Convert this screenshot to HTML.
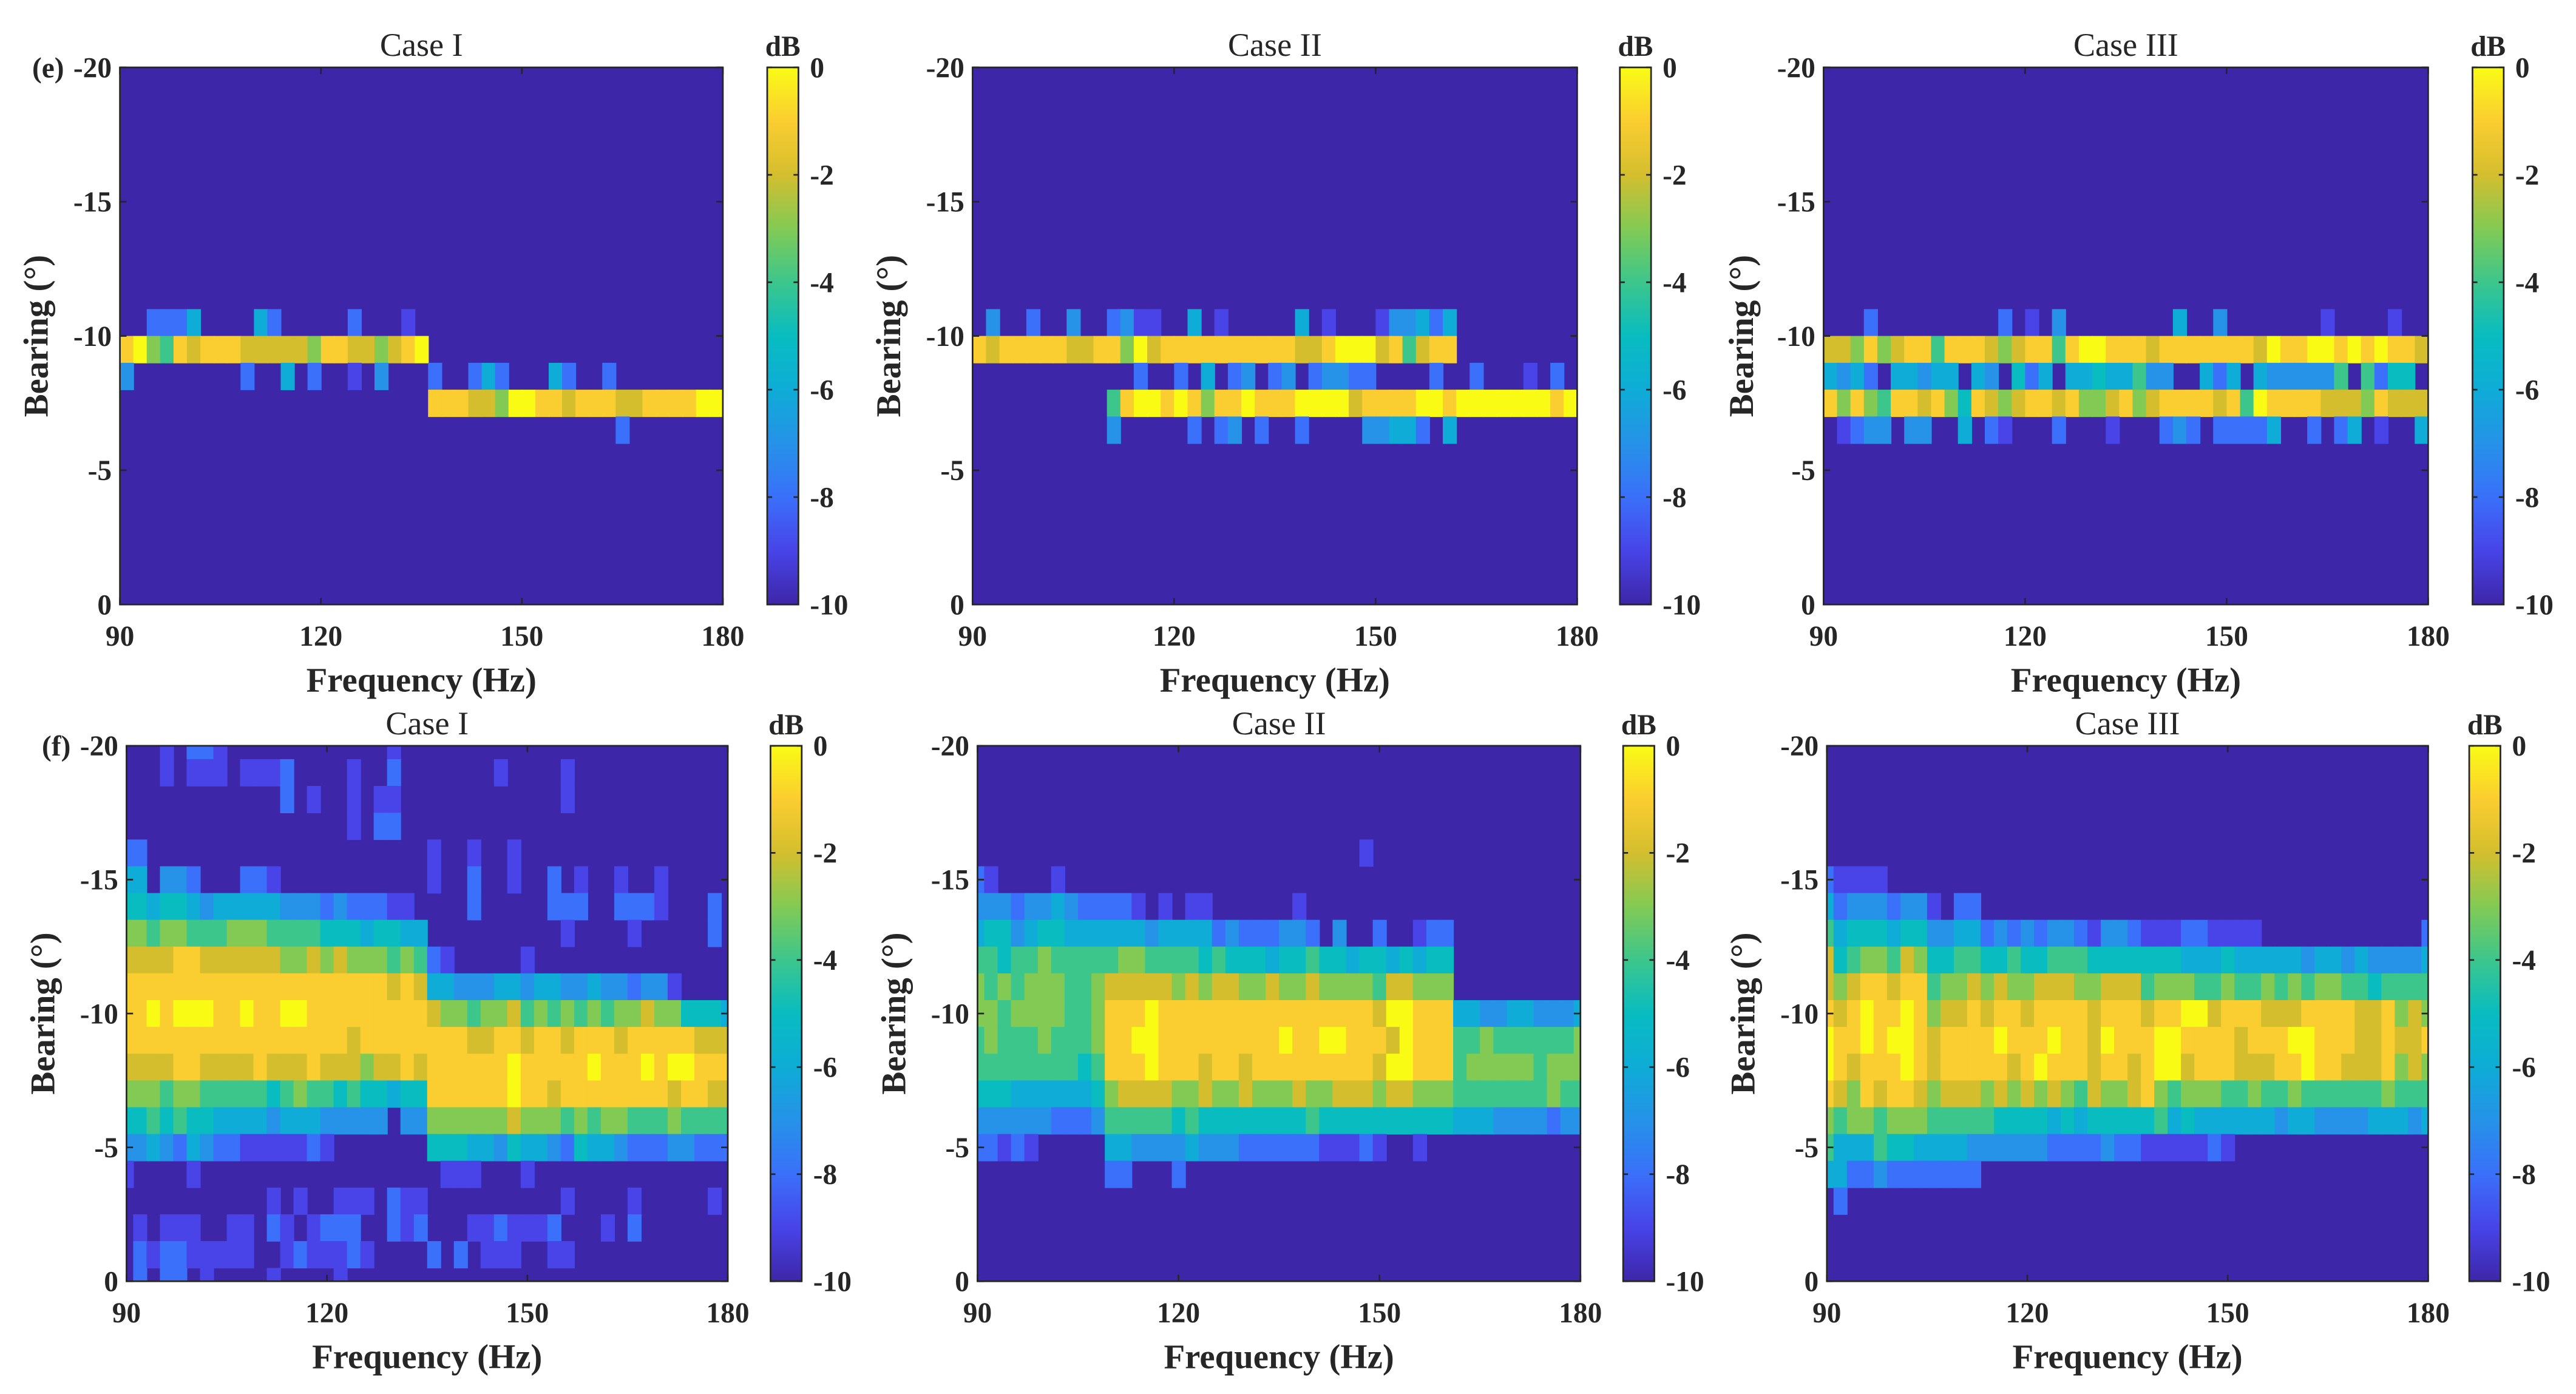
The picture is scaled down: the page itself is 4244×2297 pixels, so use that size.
<!DOCTYPE html>
<html>
<head>
<meta charset="utf-8">
<style>
html,body{margin:0;padding:0;background:#fff;}
svg{display:block;}
svg text{font-family:"Liberation Serif","DejaVu Serif",serif;fill:#262626;}
.tk{font-size:17.5px;font-weight:bold;}
.lab{font-size:21px;font-weight:bold;}
.ttl{font-size:20px;}
</style>
</head>
<body>
<svg id="fig" width="4244" height="2297" viewBox="0 0 1568 848.6" font-family="Liberation Serif, DejaVu Serif, serif" xmlns="http://www.w3.org/2000/svg">
<defs id="defs"></defs>
</svg>
<script>
// ---------- data ----------
// level digit d => value -d dB, '.' => -10 dB (floor)
const freqTicks = [90, 120, 150, 180];
const bearingTicks = [-20, -15, -10, -5, 0];
const cbarTicks = [0, -2, -4, -6, -8, -10];

// top row (e): cells centred on these bearings, 45 cols of 2 Hz starting at 90 Hz
const eBearings = [-10.5, -9.5, -8.5, -7.5, -6.5];
const e1Rows = [
"..888 6.... 68... ..8.. .9... ..... ..... ..... .....",
"10341 21112 22223 11223 210.. ..... ..... ..... .....",
"7.... ....8 ..6.8 ..9.7 ...8. .868. ..68. .8... .....",
"..... ..... ..... ..... ...11 12230 01121 11221 11100",
"..... ..... ..... ..... ..... ..... ..... ..8.. ....."
];
const e2Rows = [
".7..8 ..7.. 8799. .6.9. ....6 .9... 97768 6.... .....",
"12111 11221 13021 11111 11112 21000 21421 1.... .....",
"..... ..... ..8.. 8.6.8 7.87. 87788 ....8 ..8.. .9.8.",
"..... ..... 41001 01311 01110 00021 11100 10000 00010",
"..... ..... 7.... .8.87 .8..8 ....7 7668. 6.... ....."
];
const e3Rows = [
"...8. ..... ...8. 9.7.. ..... .6..7 ..... ..9.. ..9..",
"22313 21141 11232 11410 01112 11111 11201 10010 10112",
"6768. 66766 .67.5 86.66 56647 7..68 6.677 7774. 4855.",
"13134 11213 51232 11213 32132 11112 14011 11222 31222",
".9877 .77.. 6.89. ..8.. .9... 878.8 8886. .8.86 .9..6"
];

// bottom row (f): cells centred on integer bearings -20..0, 46 cols centred at 90,92,...,180 Hz
const fBearings = [-20,-19,-18,-17,-16,-15,-14,-13,-12,-11,-10,-9,-8,-7,-6,-5,-4,-3,-2,-1,0];
const f1Rows = [
"...9. 889.. ..... ..... 9.... ..... ..... ..... ..... .",
"...9. 999.9 998.. ..9.. 8.... ...9. ...9. ..... ..... .",
"..... ..... ..8.9 ..9.9 9.... ..... ...9. ..... ..... .",
"..... ..... ..... ..9.8 8.... ..... ..... ..... ..... .",
"88... ..... ..... ..... ...9. .9..9 ..... ..... ..... .",
"66.77 8...8 89... ..... ...9. .8..9 ..8.9 ..9.. 9.... .",
"55655 67666 66777 87888 99... .8... ..888 ..888 9...8 .",
"33433 44433 34444 55565 566.. ..... ...9. ...9. ....8 .",
"22221 12222 22332 32333 43489 ..... 9.... ..... ..... .",
"11111 11111 11111 11111 21266 77766 76677 67787 79... .",
"11010 00110 11001 11111 11123 34332 43434 34332 33555 6",
"11111 11111 11111 11211 11111 12211 21121 11211 11122 2",
"22221 12222 12221 22232 21211 11110 11111 01110 10011 1",
"33343 34444 45434 45455 65511 11110 11211 11111 12112 2",
"55454 55666 67666 77777 .7733 33332 33343 43344 43444 4",
"77678 67889 99998 9.... ...55 56675 66785 66788 87788 8",
"9.... 9.... ..... ..... ....9 99... 9.... ..... ..... .",
"..... ..... .9.9. .999. 899.. ..... ...9. ...9. ....9 .",
".9.99 9..99 .89.9 888.. 898.. .9989 998.. .9.8. ..... .",
".8988 99999 ..989 9989. ...8. 8.999 ..99. ..... ..... .",
".8.88 .9... .9... .9... ..... ..... ..... ..... ..... ."
];
const f2Rows = [
"..... ..... ..... ..... ..... ..... ..... ..... ..... .",
"..... ..... ..... ..... ..... ..... ..... ..... ..... .",
"..... ..... ..... ..... ..... ..... ..... ..... ..... .",
"..... ..... ..... ..... ..... ..... ..... ..... ..... .",
"..... ..... ..... ..... ..... ....9 ..... ..... ..... .",
"89... .9... ..... ..... ..... ..... ..... ..... ..... .",
"77787 76788 889.9 .99.. ....9 ..... ..... ..... ..... .",
"65576 55666 66676 66687 88877 8.7.. 8..98 8.... ..... .",
"44544 34444 43344 44545 55655 45565 56565 5.... ..... .",
"34343 33443 22222 32322 33233 23333 42233 3.... ..... .",
"33433 33443 11101 11111 11111 11111 20011 16677 66777 6",
"43444 34443 11001 11111 11101 10011 12011 14434 44444 3",
"44444 44454 11101 11211 21111 11111 20011 14333 33433 3",
"55566 66665 32222 33233 23332 33222 32233 34444 44434 4",
"77777 78887 44444 54555 55555 45555 55555 56667 77787 7",
"88989 ..... 66777 76777 88888 89998 9..9. ..... ..... .",
"..... ..... 88... 8.... ..... ..... ..... ..... ..... .",
"..... ..... ..... ..... ..... ..... ..... ..... ..... .",
"..... ..... ..... ..... ..... ..... ..... ..... ..... .",
"..... ..... ..... ..... ..... ..... ..... ..... ..... .",
"..... ..... ..... ..... ..... ..... ..... ..... ..... ."
];
const f3Rows = [
"..... ..... ..... ..... ..... ..... ..... ..... ..... .",
"..... ..... ..... ..... ..... ..... ..... ..... ..... .",
"..... ..... ..... ..... ..... ..... ..... ..... ..... .",
"..... ..... ..... ..... ..... ..... ..... ..... ..... .",
"..... ..... ..... ..... ..... ..... ..... ..... ..... .",
"89999 ..... ..... ..... ..... ..... ..... ..... ..... .",
"68777 8779. 88... ..... ..... ..... ..... ..... ..... .",
"46555 65577 66878 78778 97789 99889 999.. ..... ..... 8",
"25433 42355 44554 55444 55555 55666 56666 67667 67777 6",
"23211 21143 32323 32223 32224 33344 34434 34334 45444 4",
"12101 10132 21211 21111 21112 11002 11122 21111 22132 3",
"01101 00121 11101 11011 20111 00111 12111 00111 22122 1",
"01211 10121 11112 10111 21121 00211 12221 10112 22132 3",
"12312 11232 22323 23234 23321 34333 44344 34444 44344 4",
"34334 33344 44455 55656 55555 46566 66667 66777 76667 6",
"46664 55666 67777 77888 87889 99998 9.... ..... ..... .",
"66887 88888 88... ..... ..... ..... ..... ..... ..... .",
".8... ..... ..... ..... ..... ..... ..... ..... ..... .",
"..... ..... ..... ..... ..... ..... ..... ..... ..... .",
"..... ..... ..... ..... ..... ..... ..... ..... ..... .",
"..... ..... ..... ..... ..... ..... ..... ..... ..... ."
];

// ---------- rendering ----------
const NS = "http://www.w3.org/2000/svg";
const svg = document.getElementById('fig');
const defs = document.getElementById('defs');
const FONT = '"Liberation Serif", "DejaVu Serif", serif';
const parula = [[0,62,38,168],[0.1,72,68,232],[0.2,58,112,250],[0.3,38,146,232],[0.4,14,172,214],[0.5,8,188,192],[0.6,60,198,140],[0.7,130,202,84],[0.8,212,190,46],[0.9,250,205,48],[1,249,251,21]];
function colorOf(v){ // v in dB -10..0
  let t = Math.max(0, Math.min(1, (v + 10) / 10));
  for (let i = 0; i < parula.length - 1; i++) {
    const a = parula[i], b = parula[i+1];
    if (t <= b[0]) {
      const f = (t - a[0]) / (b[0] - a[0]);
      return 'rgb(' + [1,2,3].map(j => Math.round(a[j] + f*(b[j]-a[j]))).join(',') + ')';
    }
  }
  return 'rgb(249,251,21)';
}
function mk(tag, attrs, parent){
  const el = document.createElementNS(NS, tag);
  for (const k in attrs) el.setAttribute(k, attrs[k]);
  (parent || svg).appendChild(el);
  return el;
}
function txt(s, attrs, parent){
  const t = mk('text', attrs, parent);
  t.style.fontFamily = FONT;
  t.textContent = s;
  return t;
}
function parseRow(s){ return s.replace(/ /g,'').split('').map(ch => ch === '.' ? -10 : -Number(ch)); }

// colorbar gradient
const grad = mk('linearGradient', {id:'parulaGrad', x1:0, y1:1, x2:0, y2:0}, defs);
parula.forEach(p => mk('stop', {offset: p[0], 'stop-color': 'rgb(' + p[1] + ',' + p[2] + ',' + p[3] + ')'}, grad));

const panels = [
  {key:'e1', rows:e1Rows, bear:eBearings, centred:false, x0:73, x1:440, y0:41, y1:368, cb:467, title:'Case I', tag:'(e)', ylx:22},
  {key:'e2', rows:e2Rows, bear:eBearings, centred:false, x0:592, x1:960, y0:41, y1:368, cb:986, title:'Case II', ylx:541},
  {key:'e3', rows:e3Rows, bear:eBearings, centred:false, x0:1110, x1:1478, y0:41, y1:368, cb:1505, title:'Case III', ylx:1060},
  {key:'f1', rows:f1Rows, bear:fBearings, centred:true, x0:77, x1:443, y0:454, y1:780, cb:469, title:'Case I', tag:'(f)', ylx:26},
  {key:'f2', rows:f2Rows, bear:fBearings, centred:true, x0:595, x1:962, y0:454, y1:780, cb:988, title:'Case II', ylx:544},
  {key:'f3', rows:f3Rows, bear:fBearings, centred:true, x0:1112, x1:1478, y0:454, y1:780, cb:1503, title:'Case III', ylx:1061}
];

panels.forEach(P => {
  const g = mk('g', {});
  
  
  const xs = f => P.x0 + (f - 90) / 90 * (P.x1 - P.x0);
  const ys = b => P.y0 + (b + 20) / 20 * (P.y1 - P.y0);
  const clip = mk('clipPath', {id: 'clip-' + P.key}, defs);
  mk('rect', {x:P.x0, y:P.y0, width:P.x1-P.x0, height:P.y1-P.y0}, clip);
  const bg = mk('rect', {x:P.x0, y:P.y0, width:P.x1-P.x0, height:P.y1-P.y0, fill:colorOf(-10)}, g);
  
  
  const cells = mk('g', {'clip-path': 'url(#clip-' + P.key + ')'}, g);
  P.rows.forEach((rs, ri) => {
    const vals = parseRow(rs);
    const bc = P.bear[ri];
    vals.forEach((v, k) => {
      if (v <= -10) return;
      const fa = P.centred ? 89 + 2*k : 90 + 2*k;
      const xa = xs(fa), xb = xs(fa + 2);
      const ya = ys(bc - 0.5), yb = ys(bc + 0.5);
      const r = mk('rect', {x:xa, y:ya, width:xb-xa+0.4, height:yb-ya+0.3, fill:colorOf(v)}, cells);
      
      
    });
  });
  mk('rect', {x:P.x0, y:P.y0, width:P.x1-P.x0, height:P.y1-P.y0, fill:'none', stroke:'#262626', 'stroke-width':1}, g);
  freqTicks.forEach(f => {
    const x = xs(f);
    mk('line', {x1:x, x2:x, y1:P.y1, y2:P.y1-4, stroke:'#262626'}, g);
    mk('line', {x1:x, x2:x, y1:P.y0, y2:P.y0+4, stroke:'#262626'}, g);
    const t = txt(String(f), {x:x, y:P.y1+25, 'text-anchor':'middle', class:'tk'}, g);
    
    
  });
  bearingTicks.forEach(b => {
    const y = ys(b);
    mk('line', {x1:P.x0, x2:P.x0+4, y1:y, y2:y, stroke:'#262626'}, g);
    mk('line', {x1:P.x1, x2:P.x1-4, y1:y, y2:y, stroke:'#262626'}, g);
    const t = txt(String(b), {x:P.x0-5, y:y+6, 'text-anchor':'end', class:'tk'}, g);
    
    
  });
  const xl = txt('Frequency (Hz)', {x:(P.x0+P.x1)/2, y:P.y1+53, 'text-anchor':'middle', class:'lab'}, g);
  
  
  const yc = (P.y0 + P.y1) / 2;
  const yl = txt('Bearing (°)', {x:P.ylx, y:yc, 'text-anchor':'middle', class:'lab', transform:'rotate(-90 ' + P.ylx + ' ' + yc + ')', dy:'7'}, g);
  
  
  const tt = txt(P.title, {x:(P.x0+P.x1)/2, y:P.y0-7, 'text-anchor':'middle', class:'ttl'}, g);
  
  
  if (P.tag) {
    const tg = txt(P.tag, {x:P.x0-34, y:P.y0+6, 'text-anchor':'end', class:'tk'}, g);
    
    
  }
  const cw = 19;
  const cbar = mk('rect', {x:P.cb, y:P.y0, width:cw, height:P.y1-P.y0, fill:'url(#parulaGrad)', stroke:'#262626', 'stroke-width':1}, g);
  
  
  cbarTicks.forEach(v => {
    const y = P.y1 - (v + 10) / 10 * (P.y1 - P.y0);
    mk('line', {x1:P.cb, x2:P.cb+3, y1:y, y2:y, stroke:'#262626'}, g);
    mk('line', {x1:P.cb+cw, x2:P.cb+cw-3, y1:y, y2:y, stroke:'#262626'}, g);
    const t = txt(String(v), {x:P.cb+cw+7, y:y+6, 'text-anchor':'start', class:'tk'}, g);
    
    
  });
  const db = txt('dB', {x:P.cb+cw/2, y:P.y0-7, 'text-anchor':'middle', class:'tk'}, g);
  
  
});
</script>
</body>
</html>
